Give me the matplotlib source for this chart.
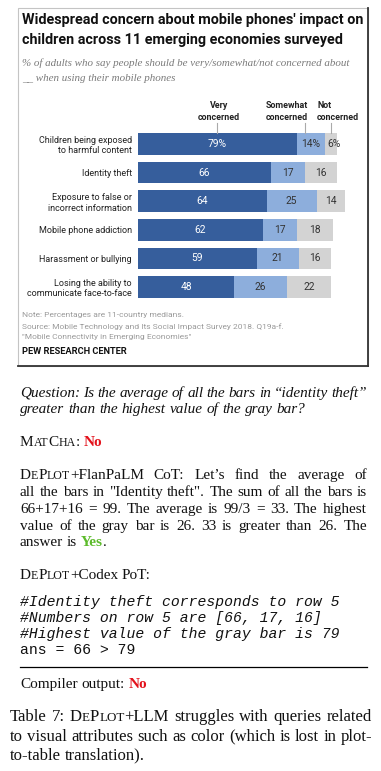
import math
import matplotlib
matplotlib.use("Agg")
import matplotlib.pyplot as plt
from matplotlib.patches import Rectangle
from matplotlib.lines import Line2D

# chart data
categories = ["Children being exposed\nto harmful content",
              "Identity theft",
              "Exposure to false or\nincorrect information",
              "Mobile phone addiction",
              "Harassment or bullying",
              "Losing the ability to\ncommunicate face-to-face"]
very = [79, 66, 64, 62, 59, 48]
somewhat = [14, 17, 25, 17, 21, 26]
not_conc = [6, 16, 14, 18, 16, 22]
headers = ["Very\nconcerned", "Somewhat\nconcerned", "Not\nconcerned"]

title = ["Widespread concern about mobile phones' impact on",
         "children across 11 emerging economies surveyed"]
subtitle = ["% of adults who say people should be very/somewhat/not concerned about",
            "__ when using their mobile phones"]
notes = ["Note: Percentages are 11-country medians.",
         "Source: Mobile Technology and Its Social Impact Survey 2018. Q19a-f.",
         "\"Mobile Connectivity in Emerging Economies\""]

c_very = "#365E9C"
c_some = "#8DAEDC"
c_not = "#D3D3D3"

W, H = 381, 771
fig = plt.figure(figsize=(W / 100, H / 100), dpi=100)
fig.patch.set_facecolor("white")
r = fig.canvas.get_renderer()

SANSKW = dict(family=["Roboto", "DejaVu Sans"])
SERIF = ["Liberation Serif", "DejaVu Serif"]
MONO = ["Liberation Mono", "DejaVu Sans Mono"]


def fx(x):
    return x / W


def fy(y):
    return 1 - y / H


def put(x, y, s, **kw):
    kw.setdefault("va", "baseline")
    return fig.text(fx(x), fy(y), s, **kw)


def width(s, **kw):
    t = fig.text(0, 0, s + "|", **kw)
    t2 = fig.text(0, 0, "|", **kw)
    w = t.get_window_extent(r).width - t2.get_window_extent(r).width
    t.remove()
    t2.remove()
    return w


def descent(s, **kw):
    t = fig.text(0, 0, s, **kw)
    d = r.get_text_width_height_descent(s, t.get_fontproperties(), ismath=False)[2]
    t.remove()
    return d


def fit(s, target, **kw):
    # font size that makes s about target pixels wide
    return 10 * target / width(s, fontsize=10, **kw)


def words(s):
    return [[(w, {})] for w in s.split()]


def line(x0, y, wl, x1=None, **base):
    # words placed one by one; spaces widened to x1 when given
    ws = [sum(width(t, **{**base, **k}) for t, k in w) for w in wl]
    sp = width(" ", **base)
    if x1 is not None and len(wl) > 1:
        sp = (x1 - x0 - sum(ws)) / (len(wl) - 1)
    x = x0
    for w, wd in zip(wl, ws):
        xx = x
        for t, k in w:
            p = {**base, **k}
            d = descent(t, **p)
            # keep baselines on the same pixel row
            put(xx, y + math.floor(d) - d, t, **p)
            xx += width(t, **p)
        x += wd + sp


def smallcaps(parts, size, extra=""):
    out = [(t, {} if big else {"fontsize": size * 0.78}) for t, big in parts]
    if extra:
        out.append((extra, {}))
    return out


# ---------------- chart box ----------------
fig.add_artist(Rectangle((fx(18), fy(366)), (368 - 18) / W, (366 - 8) / H,
                         transform=fig.transFigure, fill=False,
                         edgecolor="#c4c4c4", lw=0.8))
fig.add_artist(Line2D([fx(368), fx(368)], [fy(8), fy(366)], color="#333333", lw=1.3))
fig.add_artist(Line2D([fx(18), fx(368)], [fy(366), fy(366)], color="#333333", lw=1.3))

ts = fit(title[0], 343, fontweight="bold", **SANSKW)
for i, t in enumerate(title):
    put(22, 24 + 20 * i, t, fontsize=ts, fontweight="bold", color="#111111", **SANSKW)
ss = fit(subtitle[0], 328, family=SERIF, style="italic")
for i, t in enumerate(subtitle):
    put(22, 66 + 15 * i, t, fontsize=ss, style="italic", family=SERIF, color="#7a7a7a")

hs = fit("concerned", 42, fontweight="bold", **SANSKW)
hx = [219, 287, 317]
hha = ["center", "center", "left"]
for h, x, ha in zip(headers, hx, hha):
    for j, t in enumerate(h.split("\n")):
        put(x, 108.5 + 12 * j, t, fontsize=hs, fontweight="bold",
            ha=ha, color="#222222", **SANSKW)

ls = fit("Children being exposed", 93, **SANSKW)
vs = fit("79%", 19, **SANSKW)

ax = fig.add_axes([fx(138), fy(301.3), (349 - 138) / W, (301.3 - 129.7) / H])
yy = list(range(len(categories)))
left2 = [a + b for a, b in zip(very, somewhat)]
ax.barh(yy, very, height=0.75, color=c_very)
ax.barh(yy, somewhat, left=very, height=0.75, color=c_some)
ax.barh(yy, not_conc, left=left2, height=0.75, color=c_not)
ax.set_xlim(0, 105)
ax.set_ylim(5.5, -0.5)
for s in ax.spines.values():
    s.set_visible(False)
ax.set_xticks([])
ax.set_yticks(yy, categories)
ax.tick_params(axis="y", length=0, pad=4.5)
for lab in ax.get_yticklabels():
    lab.set_fontfamily(SANSKW["family"])
    lab.set_fontsize(ls)
    lab.set_color("#222222")
    lab.set_linespacing(1.2)

for i in yy:
    suf = "%" if i == 0 else ""
    ax.text(very[i] / 2, i, f"{very[i]}{suf}", ha="center", va="center",
            color="white", fontsize=vs, **SANSKW)
    ax.text(very[i] + somewhat[i] / 2, i, f"{somewhat[i]}{suf}", ha="center",
            va="center", color="#333333", fontsize=vs, **SANSKW)
    ax.text(left2[i] + not_conc[i] / 2 + (1.5 if i == 0 else 0), i,
            f"{not_conc[i]}{suf}", ha="center", va="center", color="#333333",
            fontsize=vs, **SANSKW)

for x in [39.5, 83.1, 96.0]:
    ax.plot([x, x], [-0.74, -0.38], color="#aaaaaa", lw=0.8, clip_on=False)

ns = fit(notes[1], 258, **SANSKW)
for i, t in enumerate(notes):
    put(22, 317.5 + 11 * i, t, fontsize=ns, color="#9a9a9a", **SANSKW)
ps = fit("PEW RESEARCH CENTER", 105, fontweight="bold", **SANSKW)
put(22, 354, "PEW RESEARCH CENTER", fontsize=ps, fontweight="bold",
    color="#111111", **SANSKW)

# ---------------- text below ----------------
BS = 11.0
body = dict(fontsize=BS, family=SERIF, color="#111111")
L, R = 20, 367
red = "#e3111b"
green = "#5cbb2b"

qi = dict(body, style="italic")
line(L, 397, words("Question: Is the average of all the bars in \u201cidentity theft\u201d"), R, **qi)
line(L, 413, words("greater than the highest value of the gray bar?"), **qi)

matcha = smallcaps([("M", 1), ("AT", 0), ("C", 1), ("HA", 0)], BS, ":")
line(L, 446, [matcha, [("No", {"fontweight": "bold", "color": red})]], **body)

deplot = smallcaps([("D", 1), ("E", 0), ("P", 1), ("LOT", 0)], BS, "+FlanPaLM")
line(L, 479, [deplot] + words("CoT: Let\u2019s find the average of"), R, **body)
line(L, 496, words("all the bars in \"Identity theft\". The sum of all the bars is"), R, **body)
line(L, 513, words("66+17+16 = 99. The average is 99/3 = 33. The highest"), R, **body)
line(L, 530, words("value of the gray bar is 26. 33 is greater than 26. The"), R, **body)
line(L, 546, words("answer is") + [[("Yes", {"fontweight": "bold", "color": green}), (".", {})]], **body)

codex = smallcaps([("D", 1), ("E", 0), ("P", 1), ("LOT", 0)], BS, "+Codex")
line(L, 579, [codex] + words("PoT:"), **body)

code = ["#Identity theft corresponds to row 5",
        "#Numbers on row 5 are [66, 17, 16]",
        "#Highest value of the gray bar is 79",
        "ans = 66 > 79"]
for i, t in enumerate(code):
    put(L, 606 + 16 * i, t, fontsize=10.6, family=MONO, color="#111111",
        style="italic" if t.startswith("#") else "normal")

fig.add_artist(Line2D([fx(L), fx(R)], [fy(667), fy(667)], color="black", lw=0.9))
line(L, 688, words("Compiler output:") + [[("No", {"fontweight": "bold", "color": red})]], **body)

CS = 12.0
cap = dict(fontsize=CS, family=SERIF, color="#111111")
dl = smallcaps([("D", 1), ("E", 0), ("P", 1), ("LOT", 0)], CS, "+LLM")
line(10, 721, words("Table 7:") + [dl] + words("struggles with queries related"), 372, **cap)
line(10, 741, words("to visual attributes such as color (which is lost in plot-"), 372, **cap)
line(10, 760, words("to-table translation)."), **cap)

fig.savefig("out.png", dpi=100, facecolor="white")
